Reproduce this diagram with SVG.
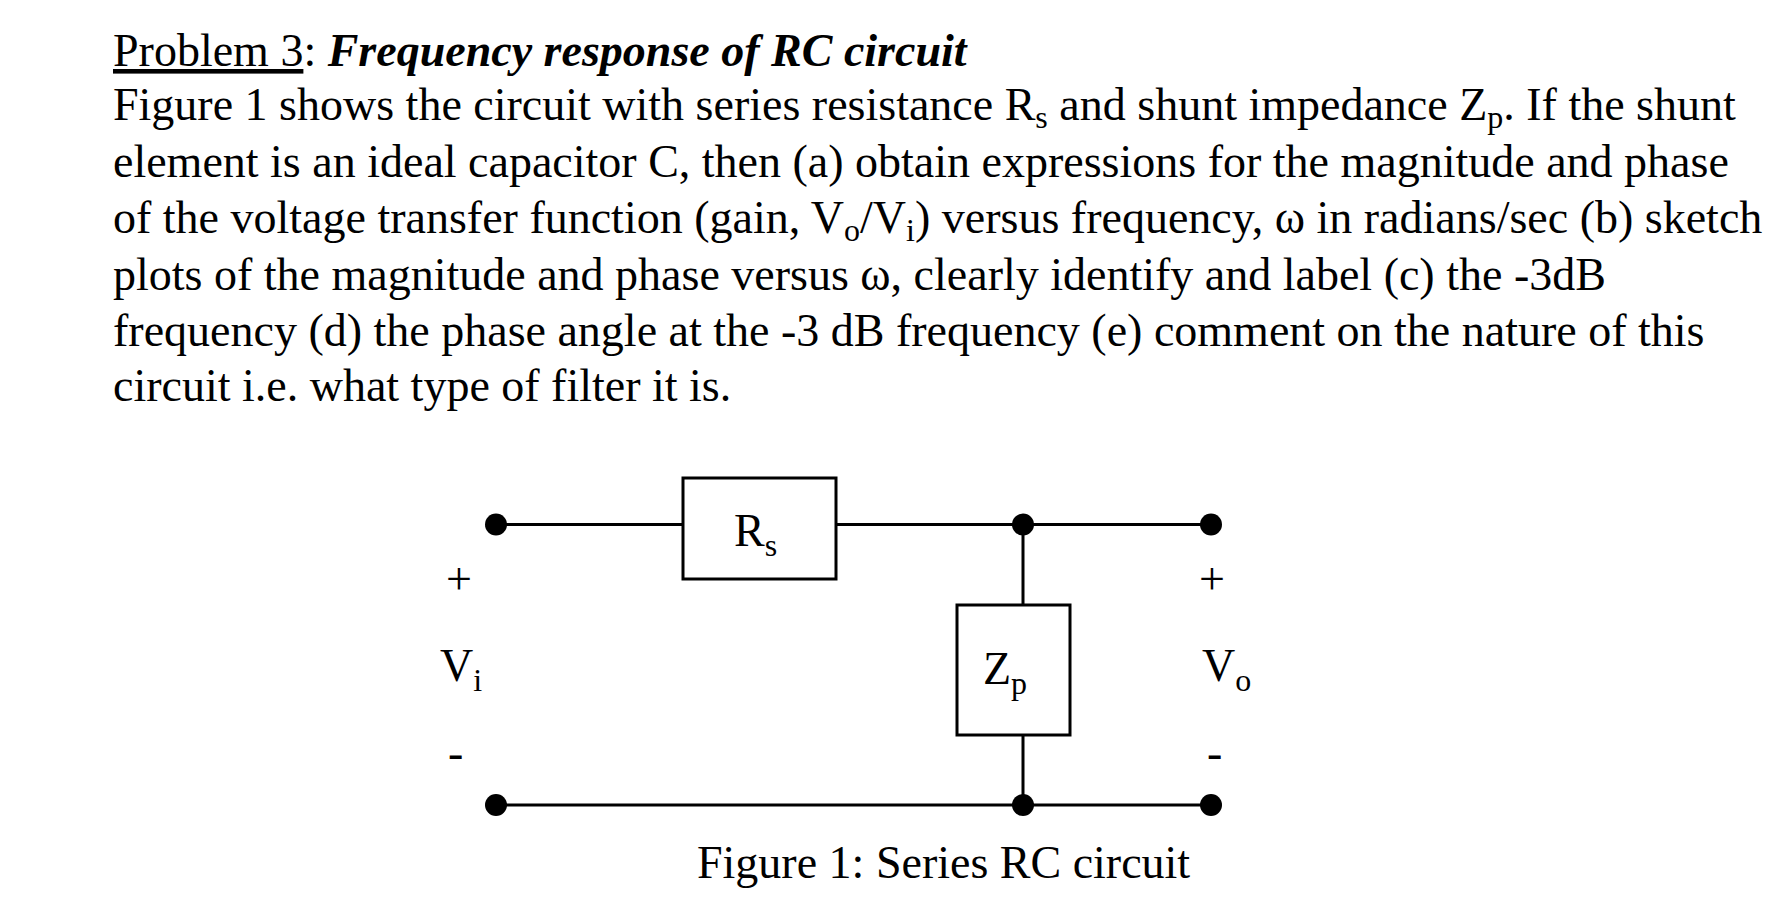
<svg xmlns="http://www.w3.org/2000/svg" width="1776" height="900" viewBox="0 0 1776 900">
<style>
text{font-family:"Liberation Serif","Times New Roman",serif;font-size:46px;fill:#000}
.s{font-size:32px}
.w{stroke:#000;stroke-width:3;fill:none}
.b{stroke:#000;stroke-width:3;fill:#fff}
</style>
<rect width="1776" height="900" fill="#fff"/>
<g id="problem-text">
<text x="113" y="66"><tspan text-decoration="underline">Problem 3</tspan>: <tspan font-weight="bold" font-style="italic">Frequency response of RC circuit</tspan></text>
<text x="113" y="120">Figure 1 shows the circuit with series resistance R<tspan class="s" dy="8">s</tspan><tspan dy="-8"> and shunt impedance Z</tspan><tspan class="s" dy="8">p</tspan><tspan dy="-8">. If the shunt</tspan></text>
<text x="113" y="177">element is an ideal capacitor C, then (a) obtain expressions for the magnitude and phase</text>
<text x="113" y="233">of the voltage transfer function (gain, V<tspan class="s" dy="8">o</tspan><tspan dy="-8">/V</tspan><tspan class="s" dy="8">i</tspan><tspan dy="-8">) versus frequency, ω in radians/sec (b) sketch</tspan></text>
<text x="113" y="290">plots of the magnitude and phase versus ω, clearly identify and label (c) the -3dB</text>
<text x="113" y="346">frequency (d) the phase angle at the -3 dB frequency (e) comment on the nature of this</text>
<text x="113" y="401">circuit i.e. what type of filter it is.</text>
</g>
<g id="connectors">
<path class="w" d="M496 524.5H683M836 524.5H1211M1023 524.5V605M1023 735V805M496 805H1211"/>
</g>
<g id="terminals">
<ellipse cx="496" cy="524.5" rx="11" ry="11"/>
<ellipse cx="1023" cy="524.5" rx="11" ry="11"/>
<ellipse cx="1211" cy="524.5" rx="11" ry="11"/>
<ellipse cx="496" cy="805" rx="11" ry="11"/>
<ellipse cx="1023" cy="805" rx="11" ry="11"/>
<ellipse cx="1211" cy="805" rx="11" ry="11"/>
</g>
<g id="Rs">
<rect class="b" x="683" y="478" width="153" height="101"/>
<text x="734" y="546">R<tspan class="s" dy="10">s</tspan></text>
</g>
<g id="Zp">
<rect class="b" x="957" y="605" width="113" height="130"/>
<text x="983" y="684">Z<tspan class="s" dy="10">p</tspan></text>
</g>
<g id="Vi-label">
<text x="446" y="594">+</text>
<text x="440" y="681">V<tspan class="s" dy="10">i</tspan></text>
<text x="448" y="768">-</text>
</g>
<g id="Vo-label">
<text x="1199" y="594">+</text>
<text x="1202" y="681">V<tspan class="s" dy="10">o</tspan></text>
<text x="1207" y="768">-</text>
</g>
<text id="caption" x="697" y="878">Figure 1: Series RC circuit</text>
</svg>
